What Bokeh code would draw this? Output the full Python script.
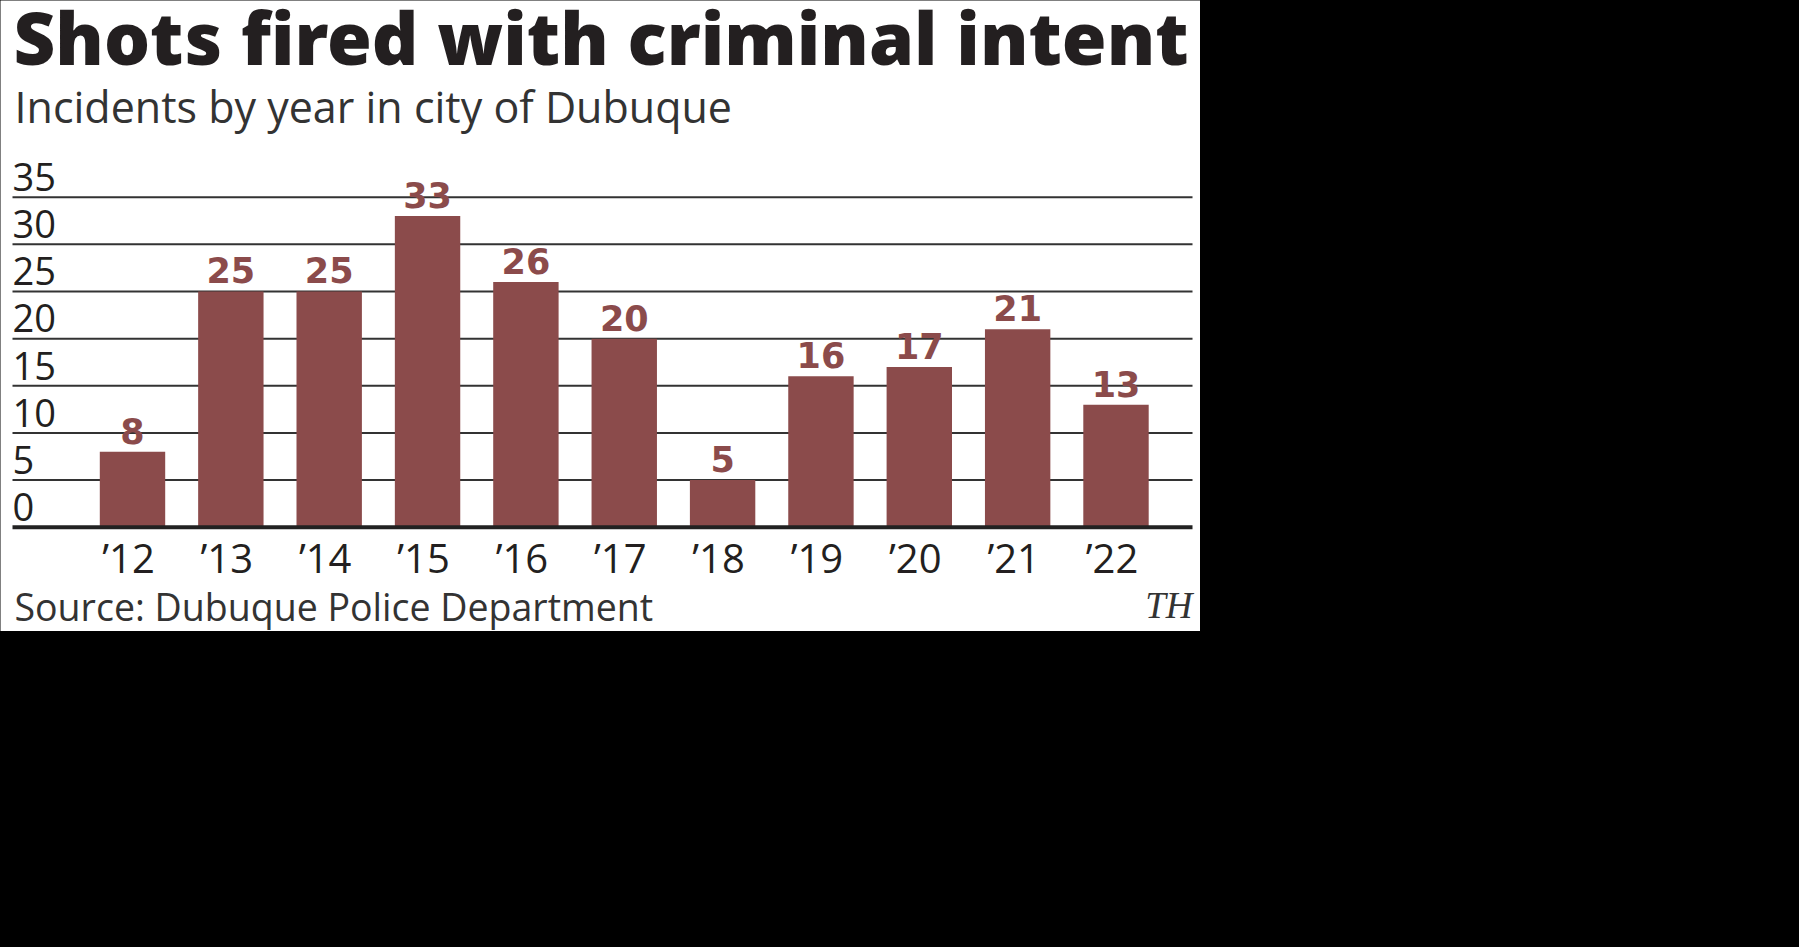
from bokeh.plotting import figure
from bokeh.layouts import column
from bokeh.models import Range1d, ColumnDataSource
from bokeh.core.properties import value
from bokeh.embed import file_html
from bokeh.resources import INLINE

# ---- data ----
years = ["\u201912", "\u201913", "\u201914", "\u201915", "\u201916", "\u201917",
         "\u201918", "\u201919", "\u201920", "\u201921", "\u201922"]
incidents = [8, 25, 25, 33, 26, 20, 5, 16, 17, 21, 13]
y_ticks = [0, 5, 10, 15, 20, 25, 30, 35]
y_tick_labels = [str(t) for t in y_ticks]

title_text = "Shots fired with criminal intent"
subtitle_text = "Incidents by year in city of Dubuque"
source_text = "Source: Dubuque Police Department"
credit_text = "TH"

# ---- layout geometry (pixels of the white panel) ----
W, H = 1200, 631
ZERO_Y = 526.7          # pixel row of value 0
PX_PER_UNIT = 9.4286    # pixels per incident
X0 = 132.0              # pixel column of first bar centre
STEP = 98.35            # pixels between bar centres
SHIFT = 0.375           # renderer baseline correction (em)

def dy(px_y):
    """pixel row -> data y"""
    return (ZERO_Y - px_y) / PX_PER_UNIT

def base(px_y, size):
    """data y that puts a text baseline on pixel row px_y"""
    return dy(px_y - SHIFT * size)

def dx(px_x):
    """pixel column -> data x"""
    return (px_x - X0) / STEP

BAR = "#8b4b4b"
INK = "#231f20"

p = figure(width=W, height=H, output_backend="svg", toolbar_location=None,
           x_range=Range1d(dx(0), dx(W)), y_range=Range1d(dy(H), dy(0)),
           min_border=0, min_border_left=0, min_border_right=0,
           min_border_top=0, min_border_bottom=0)
p.axis.visible = False
p.grid.visible = False
p.outline_line_color = None
p.background_fill_color = "white"
p.border_fill_color = "white"

VAL_SIZE = 35
idx = list(range(len(years)))
src = ColumnDataSource(dict(x=idx, top=incidents, year=years,
                            lab=[str(v) for v in incidents],
                            ly=[v + (8 + SHIFT * VAL_SIZE) / PX_PER_UNIT
                                for v in incidents]))

# gridlines
grid_t = [t for t in y_ticks if t != 0]
p.segment(x0=[dx(12)] * len(grid_t), x1=[dx(1192)] * len(grid_t),
          y0=grid_t, y1=grid_t, line_color="#333333", line_width=2)

# bars
p.vbar(x="x", top="top", bottom=0, width=65.4 / STEP, source=src,
       fill_color=BAR, line_color=None)

# baseline
p.segment(x0=[dx(12)], x1=[dx(1192)], y0=[0], y1=[0],
          line_color="#222222", line_width=4)

# y tick labels (above the lines, left aligned)
TICK_SIZE = 38
p.text(x=[dx(12)] * len(y_ticks),
       y=[t + (6 + SHIFT * TICK_SIZE) / PX_PER_UNIT for t in y_ticks],
       text=y_tick_labels, text_font=value("Open Sans"),
       text_font_size=f"{TICK_SIZE}px",
       text_color=INK, text_align="left", text_baseline="alphabetic")

# value labels
p.text(x="x", y="ly", text="lab", source=src, text_font=value("DejaVu Sans"),
       text_font_style="bold", text_font_size=f"{VAL_SIZE}px", text_color=BAR,
       text_align="center", text_baseline="alphabetic")

# year labels
YEAR_SIZE = 40
p.text(x="x", y=base(572, YEAR_SIZE), text="year", source=src,
       text_font=value("Open Sans"), text_font_size=f"{YEAR_SIZE}px",
       text_color=INK, text_align="center", text_baseline="alphabetic",
       x_offset=-4)

# title, subtitle, source, credit
p.text(x=[dx(13)], y=[base(64, 72.5)], text=[title_text],
       text_font=value("'Open Sans ExtraBold', 'Open Sans'"),
       text_font_style="bold",
       text_font_size="72.5px", text_color=INK, text_align="left",
       text_baseline="alphabetic")
p.text(x=[dx(14)], y=[base(121.7, 43)], text=[subtitle_text],
       text_font=value("Open Sans"), text_font_size="43px", text_color="#333333",
       text_align="left", text_baseline="alphabetic")
p.text(x=[dx(14)], y=[base(620, 37.5)], text=[source_text],
       text_font=value("Open Sans"), text_font_size="37.5px", text_color="#333333",
       text_align="left", text_baseline="alphabetic")
p.text(x=[dx(1192)], y=[base(619, 37)], text=[credit_text],
       text_font=value("Liberation Serif"), text_font_style="italic",
       text_font_size="37px", text_color="#333333", text_align="right",
       text_baseline="alphabetic")

page = column(p, width=1799, height=947,
              styles={"background-color": "black"})

open("out.html", "w").write(file_html(page, INLINE))
